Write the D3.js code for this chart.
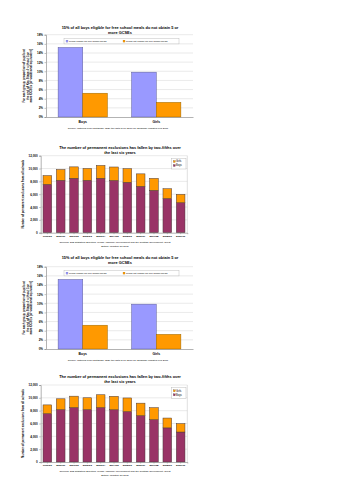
<!DOCTYPE html>
<html>
<head>
<meta charset="utf-8">
<script src="https://cdn.jsdelivr.net/npm/d3@7"></script>
<style>
  body { margin: 0; background: #fff; }
  svg { display: block; font-family: "Liberation Sans", Arial, sans-serif; }
</style>
</head>
<body>
<div id="chart"></div>
<script>
// free school meals chart
const fsmCategories = ["Boys", "Girls"];
const fsmSeries = ["Pupils eligible for free school meals", "Pupils not eligible for free school meals"];
const fsmEligible = [15.2, 9.8];
const fsmNotEligible = [5.2, 3.2];
const fsmTicks = [0, 2, 4, 6, 8, 10, 12, 14, 16, 18];
const fsmColors = ["#9999ff", "#ff9900"];
const fsmStrokes = ["#5c5c99", "#996600"];

// permanent exclusions chart
const exclYears = ["1999/00", "2000/01", "2001/02", "2002/03", "2003/04", "2004/05",
                   "2005/06", "2006/07", "2007/08", "2008/09", "2009/10"];
const exclBoys = [7530, 8160, 8480, 8160, 8480, 8140, 7850, 7220, 6600, 5320, 4670];
const exclGirls = [1370, 1690, 1780, 1850, 2000, 2100, 2130, 1950, 1870, 1530, 1310];
const exclTicks = [0, 2000, 4000, 6000, 8000, 10000, 12000];
const exclColors = { Boys: "#993366", Girls: "#ff9900" };

const W = 353, H = 500;

const svg = d3.select("#chart").append("svg")
    .attr("width", W)
    .attr("height", H);

svg.append("rect").attr("width", W).attr("height", H).attr("fill", "#fff");

function multiline(g, lines, x, y, size, lh, weight) {
    const t = g.append("text")
        .attr("text-anchor", "middle")
        .attr("font-size", size)
        .attr("font-weight", weight || "normal")
        .attr("fill", "#000");
    lines.forEach((l, i) => {
        t.append("tspan").attr("x", x).attr("y", y + i * lh).text(l);
    });
    return t;
}

function drawFsm(top, titleY) {
    const g = svg.append("g");
    const left = 46, right = 193, bottom = top + 82.3;

    const x = d3.scaleBand().domain(fsmCategories).range([left, right])
        .paddingInner(0.33).paddingOuter(0.165);
    const xs = d3.scaleBand().domain(fsmSeries).range([0, x.bandwidth()]);
    const y = d3.scaleLinear().domain([0, 18]).range([bottom, top]);

    // grid
    g.append("g").selectAll("line").data(fsmTicks.slice(1)).join("line")
        .attr("x1", left).attr("x2", right)
        .attr("y1", d => y(d)).attr("y2", d => y(d))
        .attr("stroke", "#d4d4d4").attr("stroke-width", 0.5);

    // bars
    const rows = fsmCategories.map((c, i) => ({ cat: c, vals: [fsmEligible[i], fsmNotEligible[i]] }));
    g.append("g").selectAll("g").data(rows).join("g")
        .attr("transform", d => `translate(${x(d.cat)},0)`)
        .selectAll("rect").data(d => d.vals.map((v, j) => ({ s: fsmSeries[j], v, j })))
        .join("rect")
        .attr("x", d => xs(d.s))
        .attr("y", d => y(d.v))
        .attr("width", xs.bandwidth())
        .attr("height", d => bottom - y(d.v))
        .attr("fill", d => fsmColors[d.j])
        .attr("stroke", d => fsmStrokes[d.j])
        .attr("stroke-width", 0.5);

    // axes
    const ya = g.append("g").attr("transform", `translate(${left},0)`)
        .call(d3.axisLeft(y).tickValues(fsmTicks).tickFormat(d => d + "%").tickSize(1.5).tickPadding(1.5));
    ya.select(".domain").attr("stroke", "#808080").attr("stroke-width", 0.6);
    ya.selectAll(".tick line").attr("stroke", "#808080").attr("stroke-width", 0.5);
    ya.selectAll("text").attr("font-size", 3).attr("font-weight", "bold").attr("font-family", null);

    const xa = g.append("g").attr("transform", `translate(0,${bottom})`)
        .call(d3.axisBottom(x).tickSize(0).tickPadding(4));
    xa.select(".domain").attr("stroke", "#808080").attr("stroke-width", 0.6);
    xa.selectAll("text").attr("font-size", 3.4).attr("font-weight", "bold").attr("font-family", null);

    // legend
    const lg = g.append("g").attr("transform", `translate(64,${top + 3.6})`);
    lg.append("rect").attr("width", 115).attr("height", 5.6)
        .attr("fill", "#fff").attr("stroke", "#b0b0b0").attr("stroke-width", 0.4);
    fsmSeries.forEach((s, i) => {
        const ox = 2 + i * 57;
        lg.append("rect").attr("x", ox).attr("y", 1.8).attr("width", 2).attr("height", 2)
            .attr("fill", fsmColors[i]).attr("stroke", fsmStrokes[i]).attr("stroke-width", 0.2);
        lg.append("text").attr("x", ox + 3).attr("y", 3.9).attr("font-size", 2.4).text(s);
    });

    // title
    multiline(g, ["15% of all boys eligible for free school meals do not obtain 5 or", "more GCSEs"],
        120, titleY, 3.9, 4.5, "bold");

    // y label
    const yl = g.append("g").attr("transform", `translate(27.5,${(top + bottom) / 2}) rotate(-90)`);
    multiline(yl, ["For each group, proportion of pupils at", "the end of Key Stage 4 without 5 or",
                   "more GCSEs (or vocational equivalent)"], 0, -2.3, 2.9, 3.5, "bold");

    // source
    g.append("text").attr("x", 118).attr("y", bottom + 11.8).attr("text-anchor", "middle")
        .attr("font-size", 2.5)
        .text("Source: National Pupil Database (DfE; the data is for 2009/10; England) updated Feb 2011");
}

function drawExcl(top, titleY) {
    const g = svg.append("g");
    const left = 40.7, right = 187.3, bottom = top + 77;

    const x = d3.scaleBand().domain(exclYears).range([left, right])
        .paddingInner(0.35).paddingOuter(0.175);
    const y = d3.scaleLinear().domain([0, 12000]).range([bottom, top]);

    // frame + grid
    g.append("g").selectAll("line").data(exclTicks.slice(1)).join("line")
        .attr("x1", left).attr("x2", right)
        .attr("y1", d => y(d)).attr("y2", d => y(d))
        .attr("stroke", "#d4d4d4").attr("stroke-width", 0.5);
    g.append("line").attr("x1", right).attr("x2", right).attr("y1", top).attr("y2", bottom)
        .attr("stroke", "#c0c0c0").attr("stroke-width", 0.5);

    const rows = exclYears.map((yr, i) => ({ year: yr, Boys: exclBoys[i], Girls: exclGirls[i] }));
    const stacked = d3.stack().keys(["Boys", "Girls"])(rows);

    g.append("g").selectAll("g").data(stacked).join("g")
        .attr("fill", d => exclColors[d.key])
        .selectAll("rect").data(d => d).join("rect")
        .attr("x", d => x(d.data.year))
        .attr("y", d => y(d[1]))
        .attr("width", x.bandwidth())
        .attr("height", d => y(d[0]) - y(d[1]))
        .attr("stroke", "#4a3a3a")
        .attr("stroke-width", 0.5);

    const ya = g.append("g").attr("transform", `translate(${left},0)`)
        .call(d3.axisLeft(y).tickValues(exclTicks).tickFormat(d3.format(",")).tickSize(1.5).tickPadding(1.5));
    ya.select(".domain").attr("stroke", "#808080").attr("stroke-width", 0.6);
    ya.selectAll(".tick line").attr("stroke", "#808080").attr("stroke-width", 0.5);
    ya.selectAll("text").attr("font-size", 3).attr("font-weight", "bold").attr("font-family", null);

    const xa = g.append("g").attr("transform", `translate(0,${bottom})`)
        .call(d3.axisBottom(x).tickSize(1.5).tickPadding(1));
    xa.select(".domain").attr("stroke", "#808080").attr("stroke-width", 0.6);
    xa.selectAll(".tick line").attr("stroke", "#808080").attr("stroke-width", 0.5);
    xa.selectAll("text").attr("font-size", 2.5).attr("font-weight", "bold").attr("font-family", null);

    // legend
    const lg = g.append("g").attr("transform", `translate(171.7,${top + 2.6})`);
    lg.append("rect").attr("width", 14.3).attr("height", 10.7)
        .attr("fill", "#fff").attr("stroke", "#b0b0b0").attr("stroke-width", 0.4);
    ["Girls", "Boys"].forEach((k, i) => {
        lg.append("rect").attr("x", 1.6).attr("y", 2.2 + i * 4).attr("width", 2).attr("height", 2)
            .attr("fill", exclColors[k]).attr("stroke", "#333").attr("stroke-width", 0.2);
        lg.append("text").attr("x", 4.4).attr("y", 4.1 + i * 4).attr("font-size", 2.6).text(k);
    });

    multiline(g, ["The number of permanent exclusions has fallen by two-fifths over", "the last six years"],
        120, titleY, 3.9, 5, "bold");

    g.append("text").attr("transform", `translate(23.5,${(top + bottom) / 2}) rotate(-90)`)
        .attr("text-anchor", "middle").attr("font-size", 2.9).attr("font-weight", "bold")
        .text("Number of permanent exclusions from all schools");

    multiline(g, ["Sources: DfE Statistical Bulletins, Welsh Assembly Government and the Scottish Government, Great",
                  "Britain, updated Jul 2011"], 115, bottom + 10.3, 2.5, 3.6);
}

drawFsm(34.7, 29.3);
drawExcl(155.7, 148.7);
drawFsm(266.7, 259);
drawExcl(385, 377.5);
</script>
</body>
</html>
